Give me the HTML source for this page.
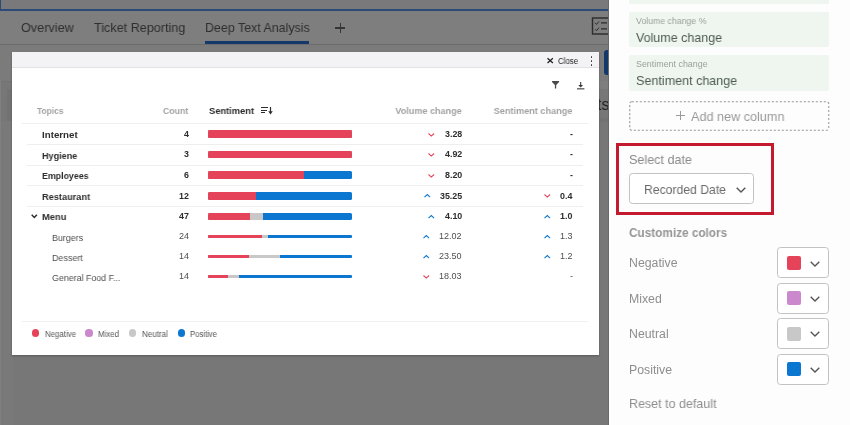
<!DOCTYPE html>
<html><head><meta charset="utf-8"><style>
html,body{margin:0;padding:0;}
body{width:850px;height:425px;position:relative;overflow:hidden;background:#777;font-family:"Liberation Sans", sans-serif;}
.t{position:absolute;line-height:1;white-space:nowrap;will-change:transform;}
.r{position:absolute;}
svg.r{overflow:visible;}
</style></head><body>
<div class="r" style="left:0px;top:0px;width:850px;height:425px;background:#777777;"></div>
<div class="r" style="left:0px;top:0px;width:609px;height:10px;background:#79797c;"></div>
<div class="r" style="left:0px;top:0px;width:1px;height:10px;background:#2a4a78;"></div>
<div class="r" style="left:0px;top:9.4px;width:609px;height:1.3px;background:#2a4a78;"></div>
<div class="r" style="left:0px;top:10.7px;width:609px;height:33.3px;background:#7e7e7e;"></div>
<div class="r" style="left:0px;top:44px;width:609px;height:1px;background:#6c6c6c;"></div>
<div class="r" style="left:0px;top:45px;width:609px;height:36px;background:#7b7b7b;"></div>
<div class="t" style="left:20.80px;transform:scaleX(0.9526);transform-origin:left center;top:20.84px;font-size:13.3px;color:#2f2f2f;font-weight:normal;">Overview</div>
<div class="t" style="left:93.60px;transform:scaleX(0.9477);transform-origin:left center;top:20.84px;font-size:13.3px;color:#2f2f2f;font-weight:normal;">Ticket Reporting</div>
<div class="t" style="left:204.70px;transform:scaleX(0.9346);transform-origin:left center;top:20.84px;font-size:13.3px;color:#2f2f2f;font-weight:normal;">Deep Text Analysis</div>
<div class="r" style="left:205px;top:41px;width:104px;height:3px;background:#13396a;"></div>
<div class="r" style="left:335.2px;top:27.3px;width:10.2px;height:1.25px;background:#353535;"></div>
<div class="r" style="left:339.7px;top:22.9px;width:1.25px;height:10.2px;background:#353535;"></div>
<svg class="r" style="left:590px;top:16px" width="19" height="20" viewBox="0 0 19 20"><rect x="2.5" y="2" width="18" height="16" fill="none" stroke="#2b2b2b" stroke-width="1.4"/><path d="M5 6.9l1.5 1.5 2.5-3M5 13.2l1.5 1.5 2.5-3" fill="none" stroke="#2b2b2b" stroke-width="1"/><path d="M11 6.8h6M11 12.9h6" stroke="#2b2b2b" stroke-width="1.2"/></svg>
<div class="r" style="left:0px;top:81px;width:609px;height:344px;background:#777777;"></div>
<div class="r" style="left:0px;top:81px;width:609px;height:0.8px;background:#727272;"></div>
<div class="r" style="left:0px;top:81px;width:1px;height:344px;background:#808080;"></div>
<div class="r" style="left:1px;top:121px;width:12px;height:304px;background:#797979;"></div>
<div class="r" style="left:7px;top:89px;width:5px;height:32px;background:#727272;"></div>
<div class="r" style="left:599px;top:81px;width:10px;height:8px;background:#7e7e7e;"></div>
<div class="r" style="left:599px;top:118px;width:10px;height:4px;background:#727272;"></div>
<div class="r" style="left:604px;top:50px;width:10px;height:25px;background:#13396a;border-radius:3px;"></div>
<div class="t" style="left:596.60px;top:96.96px;font-size:16px;color:#262626;font-weight:normal;">ts</div>
<div class="r" style="left:12px;top:52.3px;width:587px;height:302.5px;background:#fff;box-shadow:0 1px 2px rgba(0,0,0,0.25);"></div>
<div class="r" style="left:12px;top:52.3px;width:587px;height:14.6px;background:#f3f3f6;"></div>
<div class="r" style="left:12px;top:66.6px;width:587px;height:0.9px;background:#e2e2e6;"></div>
<svg class="r" style="left:546.8px;top:57.9px" width="6.4" height="5.4" viewBox="0 0 6.4 5.4"><path d="M0.5 0.3L5.9 5.1M5.9 0.3L0.5 5.1" stroke="#222" stroke-width="1.25"/></svg>
<div class="t" style="left:558.30px;transform:scaleX(0.9406);transform-origin:left center;top:56.89px;font-size:8.4px;color:#262626;font-weight:normal;">Close</div>
<div class="r" style="left:590.6px;top:55.7px;width:1.9px;height:1.9px;border-radius:1px;background:#333"></div>
<div class="r" style="left:590.6px;top:59.8px;width:1.9px;height:1.9px;border-radius:1px;background:#333"></div>
<div class="r" style="left:590.6px;top:63.9px;width:1.9px;height:1.9px;border-radius:1px;background:#333"></div>
<svg class="r" style="left:552px;top:81.2px" width="7.1" height="7.6" viewBox="0 0 7.1 7.6"><path d="M0 0H7.1V1L4.2 4V7.6H2.9V4L0 1Z" fill="#4a4a4a"/></svg>
<svg class="r" style="left:577px;top:82.3px" width="7.4" height="7.5" viewBox="0 0 7.4 7.5"><path d="M3.7 0V4.2" stroke="#3a3a3a" stroke-width="1.1"/><path d="M1.3 2.9H6.1L3.7 5.4Z" fill="#3a3a3a"/><rect x="0" y="6.3" width="7.4" height="1.1" fill="#3a3a3a"/></svg>
<div class="t" style="left:37.20px;transform:scaleX(0.8556);transform-origin:left center;top:105.80px;font-size:9.8px;color:#a3a3a3;font-weight:bold;">Topics</div>
<div class="t" style="right:661.40px;transform:scaleX(0.8975);transform-origin:right center;top:105.80px;font-size:9.8px;color:#a3a3a3;font-weight:bold;">Count</div>
<div class="t" style="left:209.00px;transform:scaleX(0.9697);transform-origin:left center;top:105.77px;font-size:9.6px;color:#2d2d2d;font-weight:bold;">Sentiment</div>
<div class="r" style="left:261.1px;top:107px;width:6.6px;height:1.2px;background:#2d2d2d;"></div>
<div class="r" style="left:261.1px;top:109.7px;width:5.7px;height:1.2px;background:#2d2d2d;"></div>
<div class="r" style="left:261.1px;top:112.2px;width:3.8px;height:1.2px;background:#2d2d2d;"></div>
<svg class="r" style="left:268px;top:106.5px" width="5" height="8" viewBox="0 0 5 8"><path d="M2.5 0V5" stroke="#2d2d2d" stroke-width="1.2"/><path d="M0.2 4.2H4.8L2.5 7.6Z" fill="#2d2d2d"/></svg>
<div class="t" style="right:388.40px;transform:scaleX(0.9247);transform-origin:right center;top:105.80px;font-size:9.8px;color:#a3a3a3;font-weight:bold;">Volume change</div>
<div class="t" style="right:277.30px;transform:scaleX(0.9324);transform-origin:right center;top:105.80px;font-size:9.8px;color:#a3a3a3;font-weight:bold;">Sentiment change</div>
<div class="r" style="left:22px;top:123px;width:566px;height:1px;background:#efefef;"></div>
<div class="t" style="left:41.90px;transform:scaleX(1.0036);transform-origin:left center;top:130.29px;font-size:9.7px;color:#2d2d2d;font-weight:bold;">Internet</div>
<div class="t" style="right:661.20px;top:129.77px;font-size:8.9px;color:#2d2d2d;font-weight:bold;">4</div>
<div class="r" style="left:208px;top:130.1px;width:144px;height:7.5px;overflow:hidden;border-radius:1.5px;background:#0b77d0"><div class="r" style="left:0;top:0;width:144px;height:7.5px;background:#c8c8c8"></div><div class="r" style="left:0;top:0;width:144px;height:7.5px;background:#e5435a"></div></div>
<div class="t" style="right:388.20px;top:129.77px;font-size:8.9px;color:#2d2d2d;font-weight:bold;">3.28</div>
<svg class="r" style="left:428.48px;top:132.50px" width="6.6" height="3.6" viewBox="0 0 6.6 3.6"><path d="M0.5 0.5L3.3 3.1L6.1 0.5" fill="none" stroke="#e5435a" stroke-width="1.05"/></svg>
<div class="t" style="right:277.30px;top:129.77px;font-size:8.9px;color:#2d2d2d;font-weight:bold;">-</div>
<div class="t" style="left:41.90px;transform:scaleX(0.9328);transform-origin:left center;top:150.59px;font-size:9.7px;color:#2d2d2d;font-weight:bold;">Hygiene</div>
<div class="t" style="right:661.20px;top:150.07px;font-size:8.9px;color:#2d2d2d;font-weight:bold;">3</div>
<div class="r" style="left:208px;top:150.8px;width:144px;height:7.5px;overflow:hidden;border-radius:1.5px;background:#0b77d0"><div class="r" style="left:0;top:0;width:144px;height:7.5px;background:#c8c8c8"></div><div class="r" style="left:0;top:0;width:144px;height:7.5px;background:#e5435a"></div></div>
<div class="t" style="right:388.20px;top:150.07px;font-size:8.9px;color:#2d2d2d;font-weight:bold;">4.92</div>
<svg class="r" style="left:428.48px;top:152.80px" width="6.6" height="3.6" viewBox="0 0 6.6 3.6"><path d="M0.5 0.5L3.3 3.1L6.1 0.5" fill="none" stroke="#e5435a" stroke-width="1.05"/></svg>
<div class="t" style="right:277.30px;top:150.07px;font-size:8.9px;color:#2d2d2d;font-weight:bold;">-</div>
<div class="t" style="left:41.90px;transform:scaleX(0.9098);transform-origin:left center;top:171.39px;font-size:9.7px;color:#2d2d2d;font-weight:bold;">Employees</div>
<div class="t" style="right:661.20px;top:170.87px;font-size:8.9px;color:#2d2d2d;font-weight:bold;">6</div>
<div class="r" style="left:208px;top:171.4px;width:144px;height:7.4px;overflow:hidden;border-radius:1.5px;background:#0b77d0"><div class="r" style="left:0;top:0;width:95.5px;height:7.4px;background:#c8c8c8"></div><div class="r" style="left:0;top:0;width:95.5px;height:7.4px;background:#e5435a"></div></div>
<div class="t" style="right:388.20px;top:170.87px;font-size:8.9px;color:#2d2d2d;font-weight:bold;">8.20</div>
<svg class="r" style="left:428.48px;top:173.60px" width="6.6" height="3.6" viewBox="0 0 6.6 3.6"><path d="M0.5 0.5L3.3 3.1L6.1 0.5" fill="none" stroke="#e5435a" stroke-width="1.05"/></svg>
<div class="t" style="right:277.30px;top:170.87px;font-size:8.9px;color:#2d2d2d;font-weight:bold;">-</div>
<div class="t" style="left:41.90px;transform:scaleX(0.9493);transform-origin:left center;top:192.19px;font-size:9.7px;color:#2d2d2d;font-weight:bold;">Restaurant</div>
<div class="t" style="right:661.20px;top:191.67px;font-size:8.9px;color:#2d2d2d;font-weight:bold;">12</div>
<div class="r" style="left:208px;top:192.1px;width:144px;height:7.5px;overflow:hidden;border-radius:1.5px;background:#0b77d0"><div class="r" style="left:0;top:0;width:47.80000000000001px;height:7.5px;background:#c8c8c8"></div><div class="r" style="left:0;top:0;width:47.80000000000001px;height:7.5px;background:#e5435a"></div></div>
<div class="t" style="right:388.20px;top:191.67px;font-size:8.9px;color:#2d2d2d;font-weight:bold;">35.25</div>
<svg class="r" style="left:423.53px;top:194.40px" width="6.6" height="3.6" viewBox="0 0 6.6 3.6"><path d="M0.5 3.1L3.3 0.5L6.1 3.1" fill="none" stroke="#0b77d0" stroke-width="1.05"/></svg>
<div class="t" style="right:277.30px;top:191.67px;font-size:8.9px;color:#2d2d2d;font-weight:bold;">0.4</div>
<svg class="r" style="left:544.33px;top:194.40px" width="6.6" height="3.6" viewBox="0 0 6.6 3.6"><path d="M0.5 0.5L3.3 3.1L6.1 0.5" fill="none" stroke="#e5435a" stroke-width="1.05"/></svg>
<div class="t" style="left:41.90px;transform:scaleX(0.9634);transform-origin:left center;top:212.49px;font-size:9.7px;color:#2d2d2d;font-weight:bold;">Menu</div>
<div class="t" style="right:661.20px;top:211.97px;font-size:8.9px;color:#2d2d2d;font-weight:bold;">47</div>
<div class="r" style="left:208px;top:212.8px;width:144px;height:7.5px;overflow:hidden;border-radius:1.5px;background:#0b77d0"><div class="r" style="left:0;top:0;width:55px;height:7.5px;background:#c8c8c8"></div><div class="r" style="left:0;top:0;width:41.599999999999994px;height:7.5px;background:#e5435a"></div></div>
<div class="t" style="right:388.20px;top:211.97px;font-size:8.9px;color:#2d2d2d;font-weight:bold;">4.10</div>
<svg class="r" style="left:428.48px;top:214.70px" width="6.6" height="3.6" viewBox="0 0 6.6 3.6"><path d="M0.5 3.1L3.3 0.5L6.1 3.1" fill="none" stroke="#0b77d0" stroke-width="1.05"/></svg>
<div class="t" style="right:277.30px;top:211.97px;font-size:8.9px;color:#2d2d2d;font-weight:bold;">1.0</div>
<svg class="r" style="left:544.33px;top:214.70px" width="6.6" height="3.6" viewBox="0 0 6.6 3.6"><path d="M0.5 3.1L3.3 0.5L6.1 3.1" fill="none" stroke="#0b77d0" stroke-width="1.05"/></svg>
<div class="t" style="left:52.40px;transform:scaleX(0.9379);transform-origin:left center;top:232.96px;font-size:9.5px;color:#4e4e4e;font-weight:normal;">Burgers</div>
<div class="t" style="right:661.20px;top:232.18px;font-size:9.0px;color:#4e4e4e;font-weight:normal;">24</div>
<div class="r" style="left:208px;top:234.6px;width:144px;height:3.6px;overflow:hidden;border-radius:1px;background:#0b77d0"><div class="r" style="left:0;top:0;width:60px;height:3.6px;background:#c8c8c8"></div><div class="r" style="left:0;top:0;width:53.89999999999998px;height:3.6px;background:#e5435a"></div></div>
<div class="t" style="right:388.20px;top:232.18px;font-size:9.0px;color:#4e4e4e;font-weight:normal;">12.02</div>
<svg class="r" style="left:423.28px;top:235.00px" width="6.6" height="3.6" viewBox="0 0 6.6 3.6"><path d="M0.5 3.1L3.3 0.5L6.1 3.1" fill="none" stroke="#0b77d0" stroke-width="1.05"/></svg>
<div class="t" style="right:277.30px;top:232.18px;font-size:9.0px;color:#4e4e4e;font-weight:normal;">1.3</div>
<svg class="r" style="left:544.19px;top:235.00px" width="6.6" height="3.6" viewBox="0 0 6.6 3.6"><path d="M0.5 3.1L3.3 0.5L6.1 3.1" fill="none" stroke="#0b77d0" stroke-width="1.05"/></svg>
<div class="t" style="left:52.40px;transform:scaleX(0.9410);transform-origin:left center;top:252.76px;font-size:9.5px;color:#4e4e4e;font-weight:normal;">Dessert</div>
<div class="t" style="right:661.20px;top:251.98px;font-size:9.0px;color:#4e4e4e;font-weight:normal;">14</div>
<div class="r" style="left:208px;top:254.6px;width:144px;height:3.6px;overflow:hidden;border-radius:1px;background:#0b77d0"><div class="r" style="left:0;top:0;width:72px;height:3.6px;background:#c8c8c8"></div><div class="r" style="left:0;top:0;width:41px;height:3.6px;background:#e5435a"></div></div>
<div class="t" style="right:388.20px;top:251.98px;font-size:9.0px;color:#4e4e4e;font-weight:normal;">23.50</div>
<svg class="r" style="left:423.28px;top:254.80px" width="6.6" height="3.6" viewBox="0 0 6.6 3.6"><path d="M0.5 3.1L3.3 0.5L6.1 3.1" fill="none" stroke="#0b77d0" stroke-width="1.05"/></svg>
<div class="t" style="right:277.30px;top:251.98px;font-size:9.0px;color:#4e4e4e;font-weight:normal;">1.2</div>
<svg class="r" style="left:544.19px;top:254.80px" width="6.6" height="3.6" viewBox="0 0 6.6 3.6"><path d="M0.5 3.1L3.3 0.5L6.1 3.1" fill="none" stroke="#0b77d0" stroke-width="1.05"/></svg>
<div class="t" style="left:52.40px;transform:scaleX(0.9319);transform-origin:left center;top:272.76px;font-size:9.5px;color:#4e4e4e;font-weight:normal;">General Food F...</div>
<div class="t" style="right:661.20px;top:271.98px;font-size:9.0px;color:#4e4e4e;font-weight:normal;">14</div>
<div class="r" style="left:208px;top:274.6px;width:144px;height:3.6px;overflow:hidden;border-radius:1px;background:#0b77d0"><div class="r" style="left:0;top:0;width:31px;height:3.6px;background:#c8c8c8"></div><div class="r" style="left:0;top:0;width:20.19999999999999px;height:3.6px;background:#e5435a"></div></div>
<div class="t" style="right:388.20px;top:271.98px;font-size:9.0px;color:#4e4e4e;font-weight:normal;">18.03</div>
<svg class="r" style="left:423.28px;top:274.80px" width="6.6" height="3.6" viewBox="0 0 6.6 3.6"><path d="M0.5 0.5L3.3 3.1L6.1 0.5" fill="none" stroke="#e5435a" stroke-width="1.05"/></svg>
<div class="t" style="right:277.30px;top:271.98px;font-size:9.0px;color:#4e4e4e;font-weight:normal;">-</div>
<svg class="r" style="left:31.2px;top:214.3px" width="6.6" height="4.6" viewBox="0 0 6.6 4.6"><path d="M0.7 0.7L3.3 3.5L5.9 0.7" fill="none" stroke="#2d2d2d" stroke-width="1.45"/></svg>
<div class="r" style="left:27px;top:144px;width:556px;height:1px;background:#eeeeee;"></div>
<div class="r" style="left:27px;top:165px;width:556px;height:1px;background:#eeeeee;"></div>
<div class="r" style="left:27px;top:185px;width:556px;height:1px;background:#eeeeee;"></div>
<div class="r" style="left:27px;top:206px;width:556px;height:1px;background:#eeeeee;"></div>
<div class="r" style="left:22px;top:321px;width:566px;height:1px;background:#f0f0f0;"></div>
<div class="r" style="left:32.3px;top:329.4px;width:7.2px;height:7.2px;border-radius:50%;background:#e5435a"></div>
<div class="t" style="left:44.70px;transform:scaleX(0.9463);transform-origin:left center;top:329.57px;font-size:8.3px;color:#555;font-weight:normal;">Negative</div>
<div class="r" style="left:85.4px;top:329.4px;width:7.2px;height:7.2px;border-radius:50%;background:#cc88cc"></div>
<div class="t" style="left:97.80px;transform:scaleX(0.9485);transform-origin:left center;top:329.57px;font-size:8.3px;color:#555;font-weight:normal;">Mixed</div>
<div class="r" style="left:128.6px;top:329.4px;width:7.2px;height:7.2px;border-radius:50%;background:#c8c8c8"></div>
<div class="t" style="left:141.50px;transform:scaleX(0.9680);transform-origin:left center;top:329.57px;font-size:8.3px;color:#555;font-weight:normal;">Neutral</div>
<div class="r" style="left:177.5px;top:329.4px;width:7.2px;height:7.2px;border-radius:50%;background:#0b77d0"></div>
<div class="t" style="left:189.90px;transform:scaleX(0.9256);transform-origin:left center;top:329.57px;font-size:8.3px;color:#555;font-weight:normal;">Positive</div>
<div class="r" style="left:609px;top:0px;width:241px;height:425px;background:#fdfdfd;"></div>
<div class="r" style="left:608px;top:0px;width:1px;height:425px;background:#6a6a6a;"></div>
<div class="r" style="left:629.4px;top:-20px;width:199.6px;height:24.3px;border-radius:2px;background:#eef6ef"></div>
<div class="r" style="left:629.4px;top:11.6px;width:199.6px;height:35.7px;border-radius:2px;background:#eef6ef"></div>
<div class="r" style="left:629.4px;top:54.6px;width:199.6px;height:36.2px;border-radius:2px;background:#eef6ef"></div>
<div class="t" style="left:636.40px;transform:scaleX(0.9840);transform-origin:left center;top:17.17px;font-size:8.9px;color:#9a9f9b;font-weight:normal;">Volume change %</div>
<div class="t" style="left:636.40px;transform:scaleX(0.9595);transform-origin:left center;top:31.00px;font-size:13px;color:#4f5a52;font-weight:normal;">Volume change</div>
<div class="t" style="left:636.40px;transform:scaleX(1.0008);transform-origin:left center;top:60.17px;font-size:8.9px;color:#9a9f9b;font-weight:normal;">Sentiment change</div>
<div class="t" style="left:636.40px;transform:scaleX(0.9657);transform-origin:left center;top:74.00px;font-size:13px;color:#4f5a52;font-weight:normal;">Sentiment change</div>
<svg class="r" style="left:629px;top:100.5px" width="200.5" height="30" viewBox="0 0 200.5 30"><rect x="0.75" y="0.75" width="199" height="28.5" rx="2" fill="none" stroke="#9c9c9c" stroke-width="1.1" stroke-dasharray="2.2 1.8"/></svg>
<div class="r" style="left:675.6px;top:114.7px;width:9.4px;height:1.1px;background:#999;"></div>
<div class="r" style="left:679.75px;top:110.5px;width:1.1px;height:9.4px;background:#999;"></div>
<div class="t" style="left:691.00px;transform:scaleX(0.9718);transform-origin:left center;top:109.50px;font-size:13px;color:#999;font-weight:normal;">Add new column</div>
<div class="r" style="left:615.9px;top:143px;width:158.3px;height:72px;box-sizing:border-box;border:3px solid #c41a30"></div>
<div class="t" style="left:628.60px;transform:scaleX(0.9761);transform-origin:left center;top:153.98px;font-size:12.9px;color:#8a8a8a;font-weight:normal;">Select date</div>
<div class="r" style="left:629.1px;top:173.2px;width:124.6px;height:30.8px;box-sizing:border-box;border:1.2px solid #c2c2c2;border-radius:3.5px;background:#fff"></div>
<div class="t" style="left:644.20px;transform:scaleX(0.9306);transform-origin:left center;top:182.81px;font-size:13.1px;color:#6a6a6a;font-weight:normal;">Recorded Date</div>
<svg class="r" style="left:735.5px;top:186.8px" width="10" height="6.5" viewBox="0 0 10 6.5"><path d="M0.7 0.7L5 5L9.3 0.7" fill="none" stroke="#555" stroke-width="1.35"/></svg>
<div class="t" style="left:629.00px;transform:scaleX(0.9350);transform-origin:left center;top:227.23px;font-size:12.6px;color:#959595;font-weight:bold;">Customize colors</div>
<div class="t" style="left:628.70px;top:257.49px;font-size:12.3px;color:#8e8e8e;font-weight:normal;">Negative</div>
<div class="r" style="left:777.1px;top:247.20000000000002px;width:51.9px;height:31px;box-sizing:border-box;border:1.2px solid #c2c2c2;border-radius:3.5px;background:#fff"></div>
<div class="r" style="left:787px;top:256.0px;width:13.7px;height:14px;border-radius:2px;background:#e5435a"></div>
<svg class="r" style="left:809.7px;top:260.5px" width="10" height="6.5" viewBox="0 0 10 6.5"><path d="M0.7 0.7L5 5L9.3 0.7" fill="none" stroke="#555" stroke-width="1.35"/></svg>
<div class="t" style="left:628.70px;top:292.89px;font-size:12.3px;color:#8e8e8e;font-weight:normal;">Mixed</div>
<div class="r" style="left:777.1px;top:282.5px;width:51.9px;height:31px;box-sizing:border-box;border:1.2px solid #c2c2c2;border-radius:3.5px;background:#fff"></div>
<div class="r" style="left:787px;top:291.3px;width:13.7px;height:14px;border-radius:2px;background:#cc88cc"></div>
<svg class="r" style="left:809.7px;top:295.8px" width="10" height="6.5" viewBox="0 0 10 6.5"><path d="M0.7 0.7L5 5L9.3 0.7" fill="none" stroke="#555" stroke-width="1.35"/></svg>
<div class="t" style="left:628.70px;top:328.19px;font-size:12.3px;color:#8e8e8e;font-weight:normal;">Neutral</div>
<div class="r" style="left:777.1px;top:318.1px;width:51.9px;height:31px;box-sizing:border-box;border:1.2px solid #c2c2c2;border-radius:3.5px;background:#fff"></div>
<div class="r" style="left:787px;top:326.90000000000003px;width:13.7px;height:14px;border-radius:2px;background:#c8c8c8"></div>
<svg class="r" style="left:809.7px;top:331.40000000000003px" width="10" height="6.5" viewBox="0 0 10 6.5"><path d="M0.7 0.7L5 5L9.3 0.7" fill="none" stroke="#555" stroke-width="1.35"/></svg>
<div class="t" style="left:628.70px;top:363.59px;font-size:12.3px;color:#8e8e8e;font-weight:normal;">Positive</div>
<div class="r" style="left:777.1px;top:353.6px;width:51.9px;height:31px;box-sizing:border-box;border:1.2px solid #c2c2c2;border-radius:3.5px;background:#fff"></div>
<div class="r" style="left:787px;top:362.40000000000003px;width:13.7px;height:14px;border-radius:2px;background:#0b77d0"></div>
<svg class="r" style="left:809.7px;top:366.90000000000003px" width="10" height="6.5" viewBox="0 0 10 6.5"><path d="M0.7 0.7L5 5L9.3 0.7" fill="none" stroke="#555" stroke-width="1.35"/></svg>
<div class="t" style="left:628.70px;transform:scaleX(0.9609);transform-origin:left center;top:397.00px;font-size:13px;color:#8e8e8e;font-weight:normal;">Reset to default</div>
</body></html>
